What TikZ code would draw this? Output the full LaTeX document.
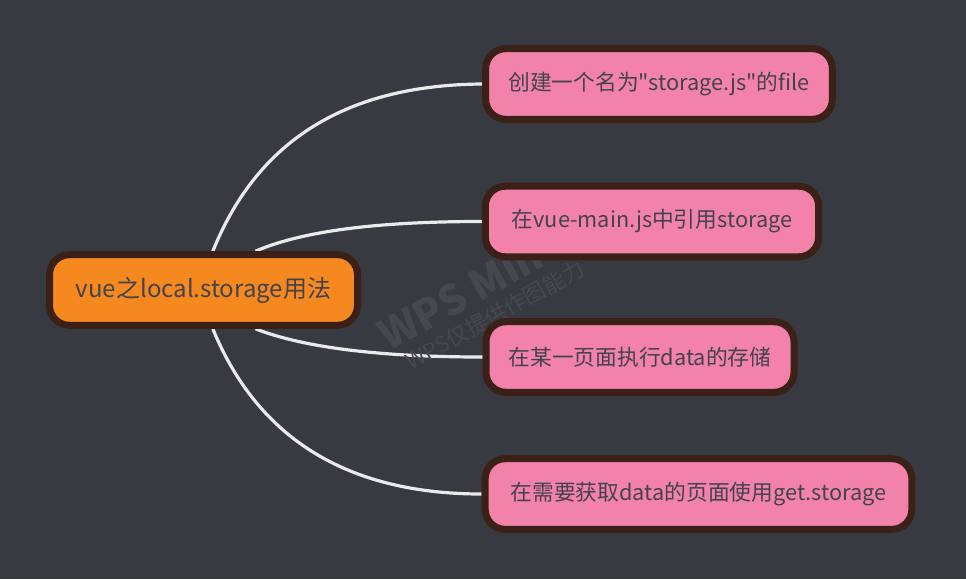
\documentclass[tikz,border=0pt]{standalone}
\usepackage{fontspec}
\setmainfont{Noto Sans CJK SC}[Ligatures=TeXOff]
\definecolor{bgcol}{HTML}{373A40}
\definecolor{border}{HTML}{3A2016}
\definecolor{rootfill}{HTML}{F5891F}
\definecolor{subfill}{HTML}{F282AA}
\definecolor{txt}{HTML}{43434B}
\definecolor{wire}{HTML}{E8EAEC}
\definecolor{wmcol}{HTML}{45484D}
\pgfdeclarelayer{back}
\pgfsetlayers{back,main}
\begin{document}
\begin{tikzpicture}[
        x=0.75pt, y=-0.75pt,
        topic/.style={rectangle, draw=border, line width=5.25pt, rounded corners=15pt, minimum height=53pt, text=txt, font=\fontsize{16.3}{19}\selectfont},
        mainbox/.style={topic, fill=rootfill, font=\fontsize{18}{21}\selectfont},
        subbox/.style={topic, fill=subfill},
        branch/.style={line width=2.4pt, draw=wire},
        wmark/.style={text=wmcol, rotate=29}
    ]

        % Watermark
        \node[wmark, font=\bfseries\fontsize{31}{34}\selectfont] (wm1) at (472,287) {WPS Mind};
        \node[wmark, font=\fontsize{16.5}{19}\selectfont] (wm2) at (495,315) {WPS仅提供作图能力};

        % Topics
        \node[mainbox, minimum width=231pt] (root) at (203.5,290) {vue之local.storage用法};
        \node[subbox, minimum width=260pt] (c1) at (659,84) {创建一个名为"storage.js"的file};
        \node[subbox, minimum width=250pt] (c2) at (652,221.5) {在vue-main.js中引用storage};
        \node[subbox, minimum width=231pt] (c3) at (640,357) {在某一页面执行data的存储};
        \node[subbox, minimum width=320pt] (c4) at (698.5,494) {在需要获取data的页面使用get.storage};

        % Background and branches
        \begin{pgfonlayer}{back}
        \fill[bgcol] (0,0) rectangle (966,579);
        \draw[branch] ([xshift=7pt]root.north) .. controls (258,139) and (348,85) .. (c1.west);
        \draw[branch] ([xshift=39pt]root.north) .. controls (305,230) and (382,221.5) .. (c2.west);
        \draw[branch] ([xshift=39pt]root.south) .. controls (305,348) and (382,357) .. (c3.west);
        \draw[branch] ([xshift=7pt]root.south) .. controls (258,439) and (348,494) .. (c4.west);
        \end{pgfonlayer}

    \end{tikzpicture}
\end{document}
